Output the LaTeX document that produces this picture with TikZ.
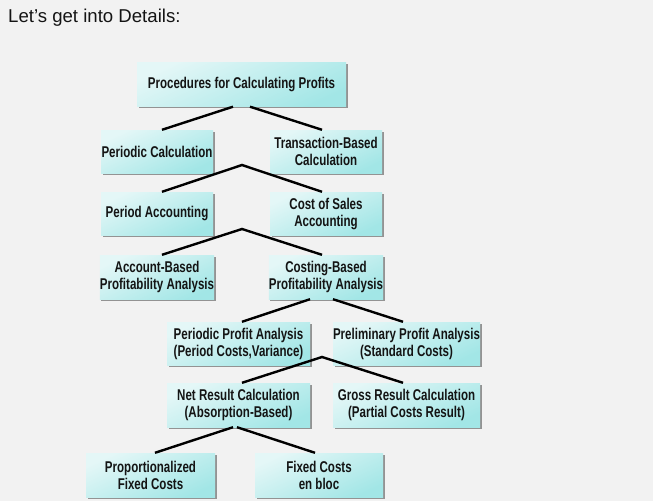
\documentclass[tikz,border=0pt]{standalone}
\usepackage{fontspec}
\setmainfont{Liberation Sans}
\newfontfamily\boxfont[FakeStretch=0.74]{Liberation Sans}
\usepackage{xcolor}
\usetikzlibrary{shadows}
\definecolor{bgcol}{HTML}{F2F2F2}
\definecolor{boxlight}{HTML}{E4F7F7}
\definecolor{boxdark}{HTML}{A2E6E6}
\definecolor{inkcol}{HTML}{141414}
\tikzset{
  box/.style={shade, top color=boxlight, bottom color=boxdark, shading angle=25,
    drop shadow={shadow xshift=1.5pt, shadow yshift=-1.8pt, fill=gray!85, opacity=1},
    inner sep=0pt, align=center, text=inkcol,
    font=\boxfont\bfseries\fontsize{15.6}{17}\selectfont},
  link/.style={line width=2.4pt, black}
}
\begin{document}
\begin{tikzpicture}[x=1pt, y=-1pt]
\fill[bgcol] (0,0) rectangle (653,501); %background
\useasboundingbox (0,0) rectangle (653,501);

\node[anchor=base west, text=inkcol, font=\fontsize{18.6}{21}\selectfont, inner sep=0pt] (title) at (8,22) {Let’s get into Details:};

%boxes
\node[box, minimum width=209pt, minimum height=44pt] (procs) at (241.5,84.5) {Procedures for Calculating Profits};

\node[box, minimum width=112pt, minimum height=43pt] (percalc) at (157,151.5) {Periodic Calculation};
\node[box, minimum width=112pt, minimum height=43pt] (transcalc) at (326,151.5) {Transaction-Based\\Calculation};

\node[box, minimum width=112pt, minimum height=43pt] (peracc) at (157,213.5) {Period Accounting};
\node[box, minimum width=112pt, minimum height=43pt] (salesacc) at (326,213.5) {Cost of Sales\\Accounting};

\node[box, minimum width=112pt, minimum height=44pt] (acctpa) at (157,277) {Account-Based\\Profitability Analysis};
\node[box, minimum width=112pt, minimum height=44pt] (costpa) at (326,277) {Costing-Based\\Profitability Analysis};

\node[box, minimum width=143pt, minimum height=43pt] (perprofit) at (238.5,343.5) {Periodic Profit Analysis\\(Period Costs,Variance)};
\node[box, minimum width=147pt, minimum height=43pt] (prelprofit) at (406.5,343.5) {Preliminary Profit Analysis\\(Standard Costs)};

\node[box, minimum width=143pt, minimum height=44pt] (netres) at (238.5,405) {Net Result Calculation\\(Absorption-Based)};
\node[box, minimum width=147pt, minimum height=44pt] (grossres) at (406.5,405) {Gross Result Calculation\\(Partial Costs Result)};

\node[box, minimum width=129pt, minimum height=44pt] (propfix) at (150.5,475) {Proportionalized\\Fixed Costs};
\node[box, minimum width=128pt, minimum height=44pt] (fixbloc) at (319,475) {Fixed Costs\\en bloc};

%apex points of the chevrons
\coordinate (apexa) at (242,165);
\coordinate (apexb) at (242,229);
\coordinate (apexc) at (322,357);

%connectors
\draw[link] ([xshift=-8.5pt]procs.south) -- ([xshift=5pt]percalc.north);
\draw[link] ([xshift=8.5pt]procs.south) -- ([xshift=-4pt]transcalc.north);

\draw[link] ([xshift=5pt]peracc.north) -- (apexa) -- ([xshift=-4pt]salesacc.north);
\draw[link] ([xshift=5pt]acctpa.north) -- (apexb) -- ([xshift=-4pt]costpa.north);

\draw[link] ([xshift=-16pt]costpa.south) -- ([xshift=3.5pt]perprofit.north);
\draw[link] ([xshift=7pt]costpa.south) -- ([xshift=-3.5pt]prelprofit.north);

\draw[link] ([xshift=3.5pt]netres.north) -- (apexc) -- ([xshift=-3.5pt]grossres.north);

\draw[link] ([xshift=-5.5pt]netres.south) -- ([xshift=4.5pt]propfix.north);
\draw[link] ([xshift=-1.5pt]netres.south) -- ([xshift=-4pt]fixbloc.north);

\end{tikzpicture}
\end{document}
